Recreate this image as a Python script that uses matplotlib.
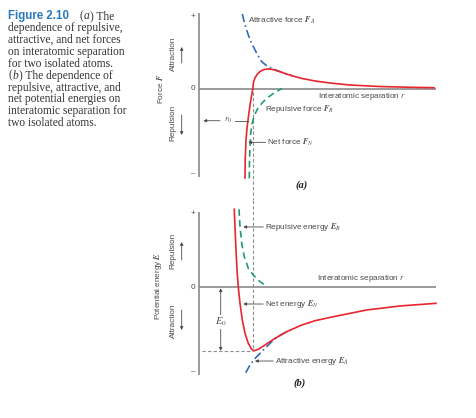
import matplotlib
matplotlib.use("Agg")
import matplotlib.pyplot as plt

plt.rcParams['mathtext.fontset'] = 'stix'
plt.rcParams['font.family'] = ['Liberation Sans', 'DejaVu Sans']

# ---------------- data (arbitrary units: r0 = 1) ----------------
r0 = 1.0
# (a) forces
fn_r = [0.854, 0.858, 0.873, 0.892, 0.920, 0.948, 0.976, 1.000, 1.013, 1.041, 1.079, 1.135,
        1.209, 1.284, 1.378, 1.471, 1.602, 1.751, 1.920, 2.163, 2.443, 2.817, 3.378, 3.938, 4.387]
fn_F = [-1.187, -0.947, -0.680, -0.520, -0.360, -0.213, -0.093, 0.0, 0.093, 0.147, 0.193, 0.233,
        0.260, 0.267, 0.260, 0.240, 0.207, 0.173, 0.140, 0.107, 0.080, 0.053, 0.033, 0.023, 0.017]
fa_r = [0.804, 0.854, 0.916, 0.979, 1.073, 1.166, 1.260, 1.353, 1.458, 1.602, 1.751]
fa_F = [1.000, 0.853, 0.720, 0.609, 0.476, 0.364, 0.311, 0.276, 0.244, 0.207, 0.173]
fr_r = [0.935, 0.938, 0.957, 0.985, 1.032, 1.097, 1.190, 1.284, 1.396, 1.546]
fr_F = [-1.191, -0.947, -0.613, -0.467, -0.347, -0.253, -0.173, -0.113, -0.053, 0.007]
# (b) energies
en_r = [0.654, 0.667, 0.686, 0.705, 0.729, 0.761, 0.804, 0.854, 0.916, 0.979, 1.028, 1.103,
        1.228, 1.415, 1.634, 1.914, 2.163, 2.505, 3.129, 3.751, 4.424]
en_E = [1.032, 0.802, 0.493, 0.229, 0.0, -0.212, -0.433, -0.608, -0.741, -0.820, -0.839, -0.820,
        -0.763, -0.675, -0.587, -0.499, -0.442, -0.389, -0.300, -0.247, -0.212]
er_r = [0.742, 0.761, 0.793, 0.841, 0.916, 1.009, 1.135, 1.228]
er_E = [1.032, 0.802, 0.582, 0.405, 0.251, 0.163, 0.074, 0.030]
ea_r = [0.867, 0.948, 1.028, 1.135, 1.228, 1.353, 1.447, 1.634]
ea_E = [-1.130, -1.028, -0.952, -0.873, -0.807, -0.720, -0.661, -0.587]
E0 = -0.839
r_max = 4.42

caption_title = [("Figure 2.10", 'fig')]
caption_first = [("(", 'normal'), ("a", 'italic'), (") The", 'normal')]
caption = [
    [("dependence of repulsive,", 'normal')],
    [("attractive, and net forces", 'normal')],
    [("on interatomic separation", 'normal')],
    [("for two isolated atoms.", 'normal')],
    [("(", 'normal'), ("b", 'italic'), (") The dependence of", 'normal')],
    [("repulsive, attractive, and", 'normal')],
    [("net potential energies on", 'normal')],
    [("interatomic separation for", 'normal')],
    [("two isolated atoms.", 'normal')],
]

# ---------------- styles ----------------
RED = '#e8262f'
BLUE = '#2f6db8'
GREEN = '#1f9c74'
AXC = '#8a8a8a'
DASHC = '#8f8f8f'
TXT = '#4a4a4a'
FS = 5.9

W, H = 476, 418
fig = plt.figure(figsize=(W / 100, H / 100), dpi=100)
renderer = fig.canvas.get_renderer()


def make_ax(pl, pr, pt, pb, x0, y0, sx, sy):
    ax = fig.add_axes([pl / W, 1 - pb / H, (pr - pl) / W, (pb - pt) / H])
    ax.set_xlim((pl - x0) / sx, (pr - x0) / sx)
    ax.set_ylim((y0 - pb) / sy, (y0 - pt) / sy)
    ax.axis('off')
    return ax


def arrow(ax, head, tail, style='-|>'):
    ax.annotate('', xy=head, xytext=tail,
                arrowprops=dict(arrowstyle=style, lw=0.6, color=TXT,
                                mutation_scale=4.5, shrinkA=0, shrinkB=0))


# ---------------- panel (a) ----------------
axa = make_ax(150, 470, 3, 200, 199.3, 89, 53.5, 75)
axa.plot([0, 0], [1.01, -1.17], color=AXC, lw=1.2, solid_capstyle='butt')
axa.plot([0, r_max], [0, 0], color=AXC, lw=1.2, solid_capstyle='butt')
axa.plot([r0, r0], [-0.036, -1.6], color=DASHC, lw=0.8, dashes=(3, 2))
axa.plot(fa_r, fa_F, color=BLUE, lw=1.2, dashes=(5, 2, 1, 2))
axa.plot(fr_r, fr_F, color=GREEN, lw=1.2, dashes=(4, 2.5))
axa.plot(fn_r, fn_F, color=RED, lw=1.2)

axa.text(-0.11, 0.973, '+', fontsize=FS, color=TXT, ha='center', va='center')
axa.text(-0.123, 0.0, '0', fontsize=FS, color=TXT, ha='center', va='center')
axa.text(-0.11, -1.133, '\u2013', fontsize=FS, color=TXT, ha='center', va='center')
axa.text(-0.735, 0.0, r'Force $\mathbfit{F}$', fontsize=FS, color=TXT, rotation=90,
         ha='center', va='center')
axa.text(-0.486, 0.467, 'Attraction', fontsize=FS, color=TXT, rotation=90, ha='center', va='center')
arrow(axa, (-0.329, 0.56), (-0.329, 0.347))
axa.text(-0.486, -0.453, 'Repulsion', fontsize=FS, color=TXT, rotation=90, ha='center', va='center')
arrow(axa, (-0.329, -0.613), (-0.329, -0.347))

axa.text(0.916, 0.911, r'Attractive force $\mathbfit{F}_{A}$', fontsize=FS, color=TXT,
         ha='left', va='center')
axa.text(2.224, -0.103, r'Interatomic separation $r$', fontsize=FS, color=TXT,
         ha='left', va='center')
axa.text(1.23, -0.271, r'Repulsive force $\mathbfit{F}_{R}$', fontsize=FS, color=TXT,
         ha='left', va='center')
arrow(axa, (0.075, -0.423), (0.387, -0.423))
axa.plot([0.667, 0.915], [-0.423, -0.423], color=TXT, lw=0.6)
axa.text(0.53, -0.423, r'$r_0$', fontsize=FS + 0.4, color=TXT, ha='center', va='center')
arrow(axa, (0.915, -0.711), (1.24, -0.711))
axa.text(1.26, -0.711, r'Net force $\mathbfit{F}_{N}$', fontsize=FS, color=TXT,
         ha='left', va='center')
axa.text(1.905, -1.28, '(a)', fontsize=7.6, color='#222222', family='Liberation Serif',
         weight='bold', style='italic', ha='center', va='center')

# ---------------- panel (b) ----------------
axb = make_ax(150, 470, 200, 400, 199.3, 287.3, 53.5, 75.6)
axb.plot([0, 0], [1.0, -1.16], color=AXC, lw=1.2, solid_capstyle='butt')
axb.plot([0, r_max], [0, 0], color=AXC, lw=1.2, solid_capstyle='butt')
axb.plot([r0, r0], [1.3, E0], color=DASHC, lw=0.8, dashes=(3, 2))
axb.plot([0.045, r0], [E0, E0], color=DASHC, lw=0.8, dashes=(3, 2))
axb.plot(ea_r, ea_E, color=BLUE, lw=1.2, dashes=(5, 2, 1, 2))
axb.plot(er_r, er_E, color=GREEN, lw=1.2, dashes=(4, 2.5))
axb.plot(en_r, en_E, color=RED, lw=1.2)

axb.text(-0.123, 0.97, '+', fontsize=FS, color=TXT, ha='center', va='center')
axb.text(-0.123, 0.0, '0', fontsize=FS, color=TXT, ha='center', va='center')
axb.text(-0.11, -1.116, '\u2013', fontsize=FS, color=TXT, ha='center', va='center')
axb.text(-0.766, 0.017, r'Potential energy $\mathbfit{E}$', fontsize=FS, color=TXT, rotation=90,
         ha='center', va='center')
axb.text(-0.486, 0.48, 'Repulsion', fontsize=FS, color=TXT, rotation=90, ha='center', va='center')
arrow(axb, (-0.329, 0.599), (-0.329, 0.361))
axb.text(-0.486, -0.446, 'Attraction', fontsize=FS, color=TXT, rotation=90, ha='center', va='center')
arrow(axb, (-0.329, -0.565), (-0.329, -0.3))

arrow(axb, (0.822, 0.798), (1.196, 0.798))
axb.text(1.228, 0.798, r'Repulsive energy $\mathbfit{E}_{R}$', fontsize=FS, color=TXT,
         ha='left', va='center')
axb.text(2.194, 0.11, r'Interatomic separation $r$', fontsize=FS, color=TXT,
         ha='left', va='center')
arrow(axb, (0.822, -0.221), (1.196, -0.221))
axb.text(1.228, -0.221, r'Net energy $\mathbfit{E}_{N}$', fontsize=FS, color=TXT,
         ha='left', va='center')
arrow(axb, (1.041, -0.975), (1.383, -0.975))
axb.text(1.415, -0.975, r'Attractive energy $\mathbfit{E}_{A}$', fontsize=FS, color=TXT,
         ha='left', va='center')
arrow(axb, (0.4, -0.013), (0.4, E0), style='<|-|>')
axb.text(0.4, -0.455, r'$\mathit{E}_0$', fontsize=7.4, color=TXT, ha='center', va='center',
         bbox=dict(facecolor='white', edgecolor='none', pad=0.6))
axb.text(1.882, -1.262, '(b)', fontsize=7.6, color='#222222', family='Liberation Serif',
         weight='bold', style='italic', ha='center', va='center')


# ---------------- caption ----------------
def caption_line(x_px, base_px, parts):
    x = x_px
    for s, st in parts:
        if st == 'fig':
            kw = dict(fontsize=8.3, weight='bold', color='#2a78be', family='Liberation Sans')
        else:
            kw = dict(fontsize=8.3, style=st, color='#333333', family='Liberation Serif')
        t = fig.text(x / W, 1 - base_px / H, s, ha='left', va='baseline', **kw)
        bb = t.get_window_extent(renderer)
        x += bb.width + 0.4


caption_line(8.3, 15.7 + 3.3, caption_title)
caption_line(80.0, 15.7 + 3.3, caption_first)
for i, parts in enumerate(caption):
    caption_line(8.3, 28 + i * 11.85 + 3.3, parts)

fig.savefig('out.png', dpi=100, facecolor='white')
